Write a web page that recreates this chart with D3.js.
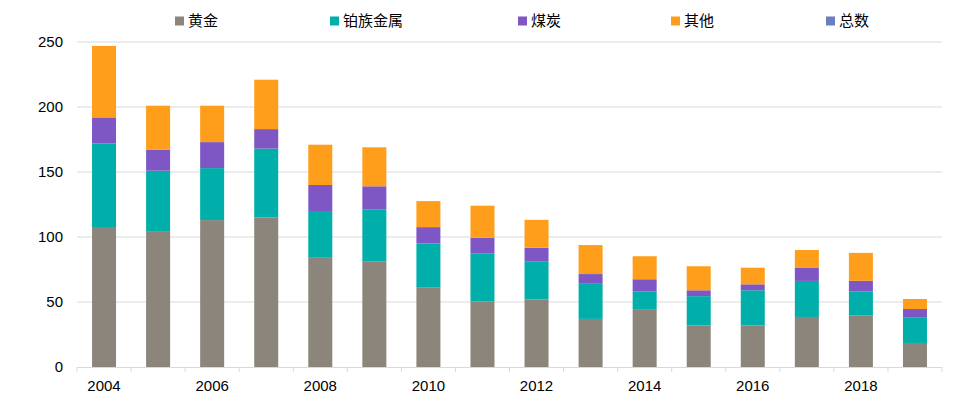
<!DOCTYPE html>
<html>
<head>
<meta charset="utf-8">
<script src="https://cdn.jsdelivr.net/npm/d3@7"></script>
<style>
    body { margin: 0; background: #fff; }
    svg text { font-family: "Liberation Sans", Arial, sans-serif; fill: #000; }
    .legend text { font-family: "Noto Sans CJK SC", sans-serif; }
</style>
</head>
<body>
<div id="chart"></div>
<script>
const years = [2004, 2005, 2006, 2007, 2008, 2009, 2010, 2011, 2012, 2013, 2014, 2015, 2016, 2017, 2018, 2019];
const gold = [107, 104, 113, 115, 84, 81, 61, 50.5, 52, 37, 44, 32, 32, 38.5, 39.5, 18.5];
const pgm = [65, 47, 40, 53, 36, 40, 34, 37, 29, 27.5, 14, 22.5, 27, 27.7, 18.5, 19.4];
const coal = [20, 16, 20, 15, 20, 18, 12.6, 12, 10.7, 7, 9.5, 4.5, 4.6, 10, 8.3, 6.7];
const other = [55, 34, 28, 38, 31, 30, 20, 24.6, 21.5, 22.3, 17.7, 18.5, 12.8, 13.8, 21.5, 7.7];
const total = years.map((y, i) => gold[i] + pgm[i] + coal[i] + other[i]);

const seriesNames = ["黄金", "铂族金属", "煤炭", "其他", "总数"];
const seriesColors = ["#8b857b", "#00afa9", "#7e57c4", "#ff9e1b", "#6a7fbf"];
const yTicks = [0, 50, 100, 150, 200, 250];

const width = 971, height = 414;
const margin = { top: 42, right: 29, bottom: 47, left: 77 };

const svg = d3.select("#chart").append("svg")
    .attr("width", width)
    .attr("height", height);

const x = d3.scaleBand()
    .domain(years)
    .range([margin.left, width - margin.right])
    .paddingInner(0.556)
    .paddingOuter(0.278);

const y = d3.scaleLinear()
    .domain([0, 250])
    .range([height - margin.bottom, margin.top]);

// gridlines
svg.append("g")
    .selectAll("line")
    .data(yTicks.slice(1))
    .enter()
    .append("line")
    .attr("x1", margin.left)
    .attr("x2", width - margin.right)
    .attr("y1", d => y(d))
    .attr("y2", d => y(d))
    .attr("stroke", "#d9d9d9")
    .attr("stroke-width", 1);

// y labels
svg.append("g")
    .selectAll("text")
    .data(yTicks)
    .enter()
    .append("text")
    .attr("x", 63)
    .attr("y", d => y(d))
    .attr("dy", "0.35em")
    .attr("text-anchor", "end")
    .style("font-size", "15px")
    .text(d => d);

// stacked bars
const rows = years.map((year, i) => ({ year, gold: gold[i], pgm: pgm[i], coal: coal[i], other: other[i] }));
const stack = d3.stack().keys(["gold", "pgm", "coal", "other"])(rows);

svg.append("g")
    .selectAll("g")
    .data(stack)
    .enter()
    .append("g")
    .attr("fill", (d, i) => seriesColors[i])
    .selectAll("rect")
    .data(d => d)
    .enter()
    .append("rect")
    .attr("x", d => x(d.data.year))
    .attr("width", x.bandwidth())
    .attr("y", d => y(d[1]))
    .attr("height", d => y(d[0]) - y(d[1]));

// x axis
const xAxisY = y(0);
svg.append("line")
    .attr("x1", margin.left)
    .attr("x2", width - margin.right)
    .attr("y1", xAxisY + 0.5)
    .attr("y2", xAxisY + 0.5)
    .attr("stroke", "#d9d9d9");

const step = x.step();
svg.append("g")
    .selectAll("line")
    .data(d3.range(years.length + 1))
    .enter()
    .append("line")
    .attr("x1", i => margin.left + i * step)
    .attr("x2", i => margin.left + i * step)
    .attr("y1", xAxisY)
    .attr("y2", xAxisY + 5)
    .attr("stroke", "#d9d9d9");

svg.append("g")
    .selectAll("text")
    .data(years.filter(yr => yr % 2 === 0))
    .enter()
    .append("text")
    .attr("x", d => x(d) + x.bandwidth() / 2)
    .attr("y", 386)
    .attr("dy", "0.35em")
    .attr("text-anchor", "middle")
    .style("font-size", "15px")
    .text(d => d);

// legend
const legendX = [175, 330, 518, 671, 826];
const legend = svg.append("g")
    .attr("class", "legend")
    .selectAll("g")
    .data(seriesNames)
    .enter()
    .append("g")
    .attr("transform", (d, i) => `translate(${legendX[i]}, 21)`);

legend.append("rect")
    .attr("x", 0)
    .attr("y", -4.5)
    .attr("width", 9)
    .attr("height", 9)
    .attr("fill", (d, i) => seriesColors[i]);

legend.append("text")
    .attr("x", 13)
    .attr("y", 0)
    .attr("dy", "0.35em")
    .style("font-size", "15px")
    .text(d => d);
</script>
</body>
</html>
